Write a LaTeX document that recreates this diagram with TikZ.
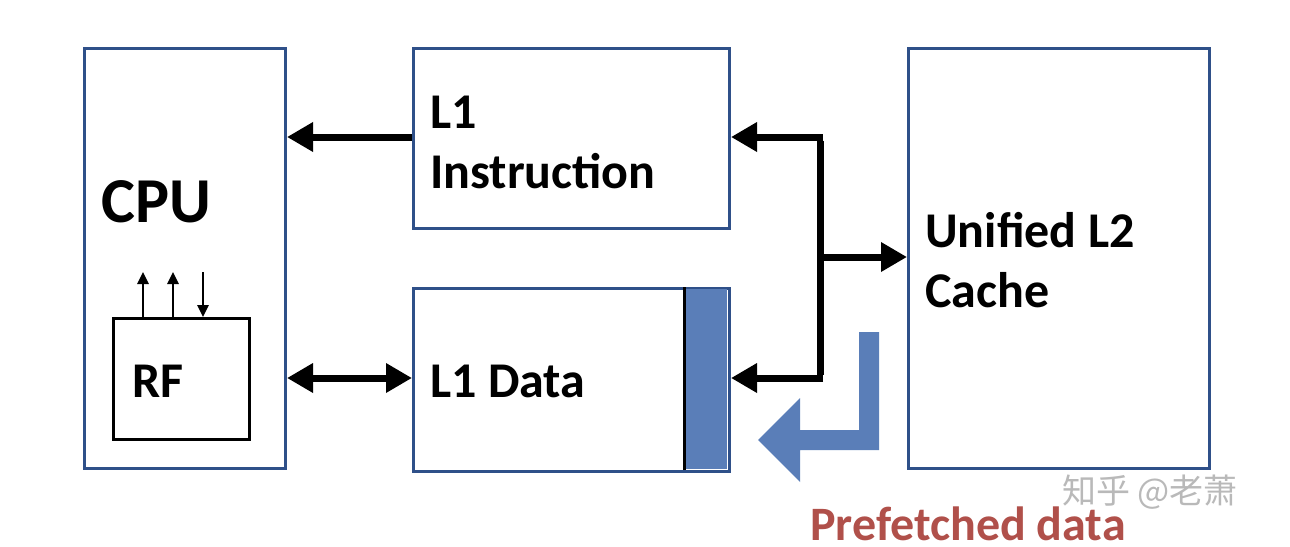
\documentclass[tikz,border=0pt]{standalone}
\usepackage{fontspec}
\setmainfont{Carlito}
\newfontfamily\cjk{Noto Sans CJK SC}
\usetikzlibrary{arrows.meta}
\definecolor{boxblue}{HTML}{2F5089}
\definecolor{fillblue}{HTML}{5A7EB8}
\definecolor{redtxt}{HTML}{B0504A}
\tikzset{
  cbox/.style={draw=boxblue,line width=3pt},
  lbl/.style={font=\bfseries\fontsize{50}{60}\selectfont,align=left,anchor=west,inner sep=0},
  bus/.style={line width=7pt,-{Triangle[length=26pt,width=28pt]}},
  dbus/.style={line width=7pt,{Triangle[length=26pt,width=28pt]}-{Triangle[length=26pt,width=28pt]}},
  thin/.style={line width=2.5pt,-{Triangle[length=12pt,width=11pt]}}
}
\begin{document}
\begin{tikzpicture}[x=1pt,y=-1pt]
\useasboundingbox (0,0) rectangle (1290,546);
\node[cbox,minimum width=201pt,minimum height=420pt,anchor=north west,inner sep=0] (cpu) at (83,47) {};
\node[cbox,minimum width=316pt,minimum height=180pt,anchor=north west,inner sep=0] (l1i) at (412,47) {};
\node[cbox,minimum width=316pt,minimum height=183pt,anchor=north west,inner sep=0] (l1d) at (412,287) {};
\node[cbox,minimum width=301pt,minimum height=420pt,anchor=north west,inner sep=0] (l2) at (907,47) {};
\fill[fillblue] (684,288.5) rectangle (726.5,468.5);
\draw[line width=3pt] (684,287) -- (684,470);
\node[draw,line width=3pt,minimum width=136pt,minimum height=121pt,anchor=north west,inner sep=0] (rf) at (112,317) {};
\node[lbl,font=\bfseries\fontsize{64}{64}\selectfont] at (101,202) {CPU};
\node[lbl] at (132,381) {RF};
\node[lbl] at (430,142) {L1\\Instruction};
\node[lbl] at (430,381) {L1 Data};
\node[lbl] at (925,260) {Unified L2\\Cache};
\coordinate (t) at (820,137);
\coordinate (m) at (820,257);
\coordinate (b) at (820,378);
\draw[bus] (412,137) -- (cpu.east |- 0,137);
\draw[line width=7pt] ([yshift=-3.5pt]t) -- ([yshift=3.5pt]b);
\draw[bus] ([xshift=3pt]t) -- (l1i.east |- t);
\draw[bus] ([xshift=3pt]b) -- (l1d.east |- b);
\draw[bus] ([xshift=-3pt]m) -- (l2.west |- m);
\draw[dbus] (cpu.east |- 0,378) -- (l1d.west |- 0,378);
\draw[thin] (143,317) -- (143,272);
\draw[thin] (173,317) -- (173,272);
\draw[thin] (203,272) -- (203,317);
\fill[fillblue] (859,332) -- (879,332) -- (879,450) -- (800,450) -- (800,482) -- (758,440) -- (800,398) -- (800,430) -- (859,430) -- cycle;
\node[font=\bfseries\fontsize{48}{50}\selectfont,text=redtxt,inner sep=0] (pf) at (968,524) {Prefetched data};
\node[font=\cjk\fontsize{34}{38}\selectfont,text=gray!55,inner sep=0] (wm) at (1150,492) {知乎 @老萧};
\end{tikzpicture}
\end{document}
